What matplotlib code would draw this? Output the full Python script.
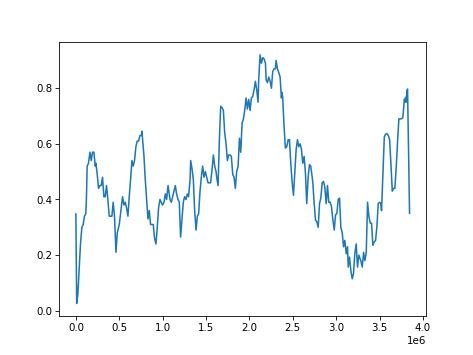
import matplotlib
matplotlib.use("Agg")
import matplotlib.pyplot as plt

# x positions in millions (plotted as x * 1e6)
x_millions = [
    0.000, 0.009, 0.023, 0.053, 0.069, 0.084, 0.099, 0.115, 0.122, 0.130,
    0.145, 0.162, 0.177, 0.192, 0.208, 0.223, 0.231, 0.246, 0.261, 0.277,
    0.292, 0.307, 0.323, 0.338, 0.353, 0.369, 0.384, 0.399, 0.415, 0.430,
    0.445, 0.462, 0.477, 0.500, 0.523, 0.538, 0.554, 0.569, 0.584, 0.600,
    0.615, 0.630, 0.646, 0.661, 0.676, 0.692, 0.707, 0.722, 0.739, 0.754,
    0.762, 0.769, 0.785, 0.800, 0.815, 0.831, 0.846, 0.861, 0.877, 0.892,
    0.907, 0.923, 0.938, 0.953, 0.969, 0.984, 0.999, 1.016, 1.031, 1.046,
    1.062, 1.085, 1.100, 1.115, 1.131, 1.146, 1.161, 1.177, 1.192, 1.207,
    1.223, 1.238, 1.253, 1.269, 1.284, 1.299, 1.316, 1.323, 1.339, 1.354,
    1.369, 1.385, 1.400, 1.415, 1.431, 1.446, 1.461, 1.477, 1.492, 1.507,
    1.523, 1.538, 1.553, 1.570, 1.585, 1.600, 1.616, 1.623, 1.639, 1.654,
    1.669, 1.685, 1.700, 1.715, 1.731, 1.746, 1.761, 1.777, 1.792, 1.808,
    1.823, 1.838, 1.853, 1.870, 1.885, 1.900, 1.916, 1.931, 1.946, 1.962,
    1.977, 1.992, 2.008, 2.023, 2.038, 2.054, 2.069, 2.084, 2.100, 2.107,
    2.123, 2.138, 2.154, 2.170, 2.185, 2.193, 2.208, 2.223, 2.239, 2.254,
    2.269, 2.285, 2.300, 2.308, 2.323, 2.338, 2.354, 2.369, 2.377, 2.384,
    2.400, 2.415, 2.431, 2.447, 2.462, 2.477, 2.493, 2.508, 2.523, 2.539,
    2.554, 2.569, 2.585, 2.600, 2.615, 2.631, 2.646, 2.661, 2.677, 2.692,
    2.707, 2.724, 2.731, 2.747, 2.762, 2.777, 2.793, 2.808, 2.823, 2.839,
    2.854, 2.869, 2.885, 2.900, 2.915, 2.931, 2.946, 2.961, 2.978, 2.993,
    3.008, 3.024, 3.039, 3.054, 3.070, 3.085, 3.100, 3.116, 3.131, 3.139,
    3.154, 3.169, 3.185, 3.200, 3.215, 3.231, 3.246, 3.261, 3.284, 3.301,
    3.316, 3.331, 3.347, 3.354, 3.362, 3.377, 3.393, 3.408, 3.423, 3.439,
    3.454, 3.469, 3.485, 3.500, 3.515, 3.523, 3.538, 3.555, 3.570, 3.585,
    3.601, 3.616, 3.631, 3.647, 3.662, 3.677, 3.693, 3.708, 3.723, 3.739,
    3.754, 3.769, 3.786, 3.793, 3.800, 3.808, 3.815, 3.823, 3.846,
]

values = [
    0.348, 0.026, 0.060, 0.240, 0.300, 0.310, 0.340, 0.350, 0.410, 0.520,
    0.530, 0.570, 0.540, 0.570, 0.570, 0.520, 0.530, 0.490, 0.440, 0.450,
    0.450, 0.480, 0.410, 0.410, 0.450, 0.400, 0.340, 0.340, 0.340, 0.390,
    0.340, 0.210, 0.280, 0.310, 0.370, 0.410, 0.380, 0.390, 0.370, 0.340,
    0.410, 0.470, 0.540, 0.520, 0.540, 0.590, 0.610, 0.610, 0.630, 0.630,
    0.645, 0.615, 0.555, 0.470, 0.400, 0.330, 0.360, 0.310, 0.310, 0.310,
    0.260, 0.240, 0.300, 0.370, 0.400, 0.390, 0.380, 0.390, 0.420, 0.400,
    0.450, 0.400, 0.390, 0.410, 0.430, 0.450, 0.420, 0.400, 0.390, 0.265,
    0.330, 0.390, 0.410, 0.400, 0.420, 0.410, 0.470, 0.540, 0.510, 0.470,
    0.360, 0.290, 0.340, 0.350, 0.430, 0.480, 0.520, 0.480, 0.500, 0.480,
    0.460, 0.460, 0.460, 0.510, 0.560, 0.520, 0.500, 0.480, 0.450, 0.615,
    0.735, 0.730, 0.720, 0.640, 0.600, 0.540, 0.560, 0.560, 0.555, 0.490,
    0.480, 0.440, 0.500, 0.520, 0.620, 0.570, 0.675, 0.690, 0.720, 0.765,
    0.725, 0.760, 0.720, 0.765, 0.770, 0.795, 0.825, 0.795, 0.750, 0.830,
    0.920, 0.890, 0.910, 0.905, 0.890, 0.830, 0.820, 0.840, 0.825, 0.800,
    0.860, 0.870, 0.870, 0.900, 0.870, 0.857, 0.840, 0.765, 0.785, 0.765,
    0.660, 0.585, 0.590, 0.615, 0.615, 0.530, 0.460, 0.415, 0.495, 0.580,
    0.615, 0.590, 0.600, 0.580, 0.530, 0.555, 0.495, 0.385, 0.480, 0.525,
    0.520, 0.480, 0.460, 0.385, 0.325, 0.320, 0.300, 0.385, 0.405, 0.460,
    0.465, 0.445, 0.385, 0.450, 0.390, 0.390, 0.375, 0.330, 0.290, 0.345,
    0.350, 0.400, 0.405, 0.300, 0.280, 0.230, 0.253, 0.205, 0.230, 0.157,
    0.193, 0.145, 0.115, 0.133, 0.205, 0.240, 0.157, 0.200, 0.180, 0.157,
    0.210, 0.180, 0.210, 0.290, 0.390, 0.340, 0.315, 0.315, 0.235, 0.247,
    0.253, 0.300, 0.385, 0.390, 0.385, 0.360, 0.480, 0.625, 0.635, 0.637,
    0.630, 0.615, 0.530, 0.430, 0.440, 0.440, 0.520, 0.610, 0.690, 0.690,
    0.690, 0.695, 0.760, 0.750, 0.767, 0.750, 0.790, 0.797, 0.350,
]

x_values = [v * 1e6 for v in x_millions]

fig = plt.figure(figsize=(6.4, 4.8), dpi=74)
ax = fig.add_subplot(1, 1, 1)
ax.plot(x_values, values)

fig.savefig("out.png", dpi=74)
